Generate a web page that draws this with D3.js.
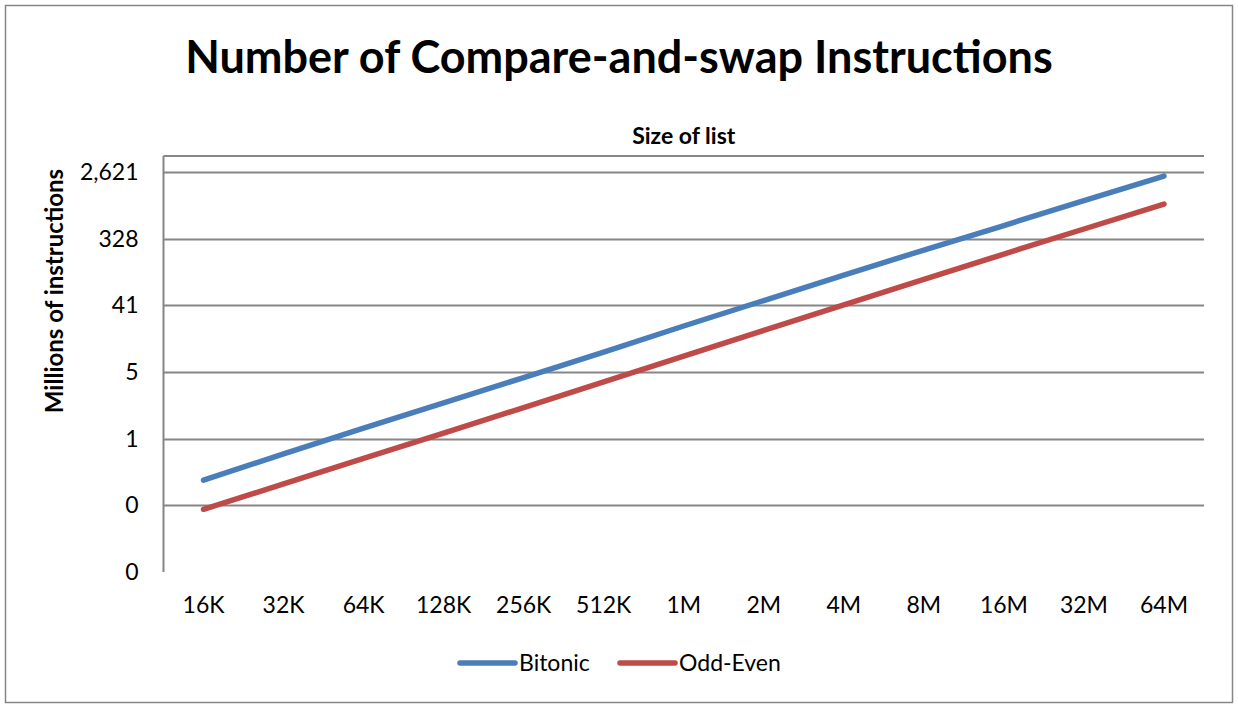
<!DOCTYPE html>
<html>
<head>
<meta charset="utf-8">
<script src="https://cdn.jsdelivr.net/npm/d3@7"></script>
<style>
  html, body { margin: 0; padding: 0; background: #fff; }
  svg { display: block; font-family: Lato, "Open Sans", sans-serif; }
</style>
</head>
<body>
<div id="chart"></div>
<script>
// chart data (millions of instructions)
var sizes = ['16K', '32K', '64K', '128K', '256K', '512K', '1M', '2M', '4M', '8M', '16M', '32M', '64M'];
var bitonic = [0.176, 0.397, 0.89, 1.95, 4.31, 9.55, 21.5, 47.6, 105, 230, 494, 1077, 2313];
var oddEven = [0.0707, 0.156, 0.345, 0.76, 1.69, 3.75, 8.43, 18.7, 41.4, 91.7, 203, 443, 966];
var tickValues = [0.01, 0.08, 0.64, 5.12, 40.96, 327.68, 2621.44];
var tickLabels = ['0', '0', '1', '5', '41', '328', '2,621'];
var seriesNames = ['Bitonic', 'Odd-Even'];
var seriesColors = ['#4A7EBB', '#BE4B48'];

var WIDTH = 1238, HEIGHT = 708;
var LEFT = 163.5, RIGHT = 1204, TOP = 156, BOTTOM = 572;
var GRID = '#868686';
var LABEL_SIZE = 23;

var svg = d3.select('#chart').append('svg')
    .attr('width', WIDTH)
    .attr('height', HEIGHT);

// outer frame
svg.append('rect')
    .attr('x', 5.5).attr('y', 5.5)
    .attr('width', 1227).attr('height', 697)
    .attr('fill', '#fff')
    .attr('stroke', GRID)
    .attr('stroke-width', 1.5);

var x = d3.scaleBand().domain(sizes).range([LEFT, RIGHT]);
var y = d3.scaleLog().base(8).domain([0.01, 4318]).range([BOTTOM, TOP]);

// gridlines (not at the bottom)
svg.append('g')
    .selectAll('line')
    .data(tickValues.slice(1))
    .enter()
    .append('line')
    .attr('x1', LEFT).attr('x2', RIGHT)
    .attr('y1', (d) => Math.round(y(d)) + 0.5)
    .attr('y2', (d) => Math.round(y(d)) + 0.5)
    .attr('stroke', GRID)
    .attr('stroke-width', 2);

// top axis line + left axis line
svg.append('line')
    .attr('x1', LEFT).attr('x2', RIGHT)
    .attr('y1', TOP).attr('y2', TOP)
    .attr('stroke', GRID).attr('stroke-width', 2);
svg.append('line')
    .attr('x1', LEFT).attr('x2', LEFT)
    .attr('y1', TOP).attr('y2', BOTTOM)
    .attr('stroke', GRID).attr('stroke-width', 2);

// y tick labels
var yAxis = d3.axisLeft(y)
    .tickValues(tickValues)
    .tickFormat((d, i) => tickLabels[i])
    .tickSize(0)
    .tickPadding(25);
var yg = svg.append('g')
    .attr('transform', `translate(${LEFT},0)`)
    .call(yAxis);
yg.select('.domain').remove();
yg.selectAll('text')
    .attr('font-size', LABEL_SIZE)
    .attr('fill', '#000')
    .attr('font-family', 'Lato, sans-serif');

// x tick labels
var xAxis = d3.axisBottom(x).tickSize(0).tickPadding(25);
var xg = svg.append('g')
    .attr('transform', `translate(0,${BOTTOM})`)
    .call(xAxis);
xg.select('.domain').remove();
xg.selectAll('text')
    .attr('font-size', LABEL_SIZE)
    .attr('fill', '#000')
    .attr('font-family', 'Lato, sans-serif');

// series lines
var line = d3.line()
    .x((d, i) => x(sizes[i]) + x.bandwidth() / 2)
    .y((d) => y(d));

[bitonic, oddEven].forEach((values, i) => {
    svg.append('path')
        .datum(values)
        .attr('d', line)
        .attr('fill', 'none')
        .attr('stroke', seriesColors[i])
        .attr('stroke-width', 5.5)
        .attr('stroke-linecap', 'round')
        .attr('stroke-linejoin', 'round');
});

// titles
svg.append('text')
    .attr('x', 619).attr('y', 73)
    .attr('text-anchor', 'middle')
    .attr('font-size', 45)
    .attr('font-weight', 'bold')
    .text('Number of Compare-and-swap Instructions');

svg.append('text')
    .attr('x', (LEFT + RIGHT) / 2).attr('y', 144)
    .attr('text-anchor', 'middle')
    .attr('font-size', 23)
    .attr('font-weight', 'bold')
    .text('Size of list');

svg.append('text')
    .attr('transform', 'translate(63,291)rotate(-90)')
    .attr('text-anchor', 'middle')
    .attr('font-size', 24)
    .attr('font-weight', 'bold')
    .text('Millions of instructions');

// legend
var legend = svg.append('g')
    .selectAll('g')
    .data(seriesNames)
    .enter()
    .append('g')
    .attr('transform', (d, i) => `translate(${460 + i * 160},663)`);
legend.append('line')
    .attr('x1', 0).attr('x2', 55)
    .attr('stroke', (d, i) => seriesColors[i])
    .attr('stroke-width', 5.5)
    .attr('stroke-linecap', 'round');
legend.append('text')
    .attr('x', 59).attr('y', 8)
    .attr('font-size', LABEL_SIZE)
    .text((d) => d);
</script>
</body>
</html>
